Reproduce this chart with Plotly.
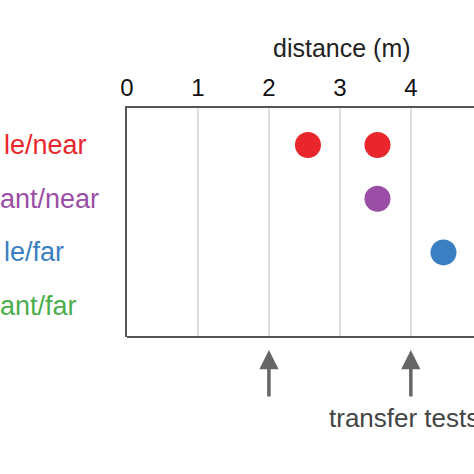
import plotly.graph_objects as go

# rows (top to bottom) and their colours -- only the visible part of each label
conditions = ['le/near', 'ant/near', 'le/far', 'ant/far']
colors = ['#e8262b', '#9b4ea6', '#3a7fc1', '#4cae4c']
label_left_px = [4, 0, 4, 0]

# measured distances per condition (m)
dot_rows = [0, 0, 1, 2]
dot_dist = [2.55, 3.53, 3.53, 4.46]
dot_colors = ['#e8262b', '#e8262b', '#9b4ea6', '#3a7fc1']

# transfer-test positions (m)
transfer_pos = [2, 4]

x_ticks = [0, 1, 2, 3, 4, 5, 6]

font = 'Liberation Sans, Arial, sans-serif'

fig = go.Figure()
fig.add_trace(go.Scatter(
    x=dot_dist,
    y=dot_rows,
    mode='markers',
    marker=dict(size=26, color=dot_colors, line=dict(width=0)),
    hoverinfo='skip',
    cliponaxis=False,
))

annotations = []
for i, (lab, col) in enumerate(zip(conditions, colors)):
    # labels are left aligned, starting at the left edge of the figure
    annotations.append(dict(
        x=-127 / 347, y=i, xref='paper', yref='y',
        text=lab, showarrow=False, xanchor='left', yanchor='middle',
        xshift=label_left_px[i] - 2,
        font=dict(size=27, color=col, family=font),
    ))

for p in transfer_pos:
    annotations.append(dict(
        x=p, y=-0.057, xref='x', yref='paper',
        text='', showarrow=True, ax=0, ay=48,
        arrowhead=2, arrowsize=1.1, arrowwidth=3.5, arrowcolor='#666666',
    ))

annotations.append(dict(
    x=2.82, y=-0.354, xref='x', yref='paper',
    text='transfer tests', showarrow=False, xanchor='left', yanchor='middle',
    font=dict(size=26, color='#444444', family=font),
))

annotations.append(dict(
    x=3.03, y=1.262, xref='x', yref='paper',
    text='distance (m)', showarrow=False, xanchor='center', yanchor='middle',
    font=dict(size=25, color='#222222', family=font),
))

fig.update_layout(
    width=474,
    height=474,
    margin=dict(l=127, r=0, t=108, b=137),
    plot_bgcolor='white',
    paper_bgcolor='white',
    showlegend=False,
    annotations=annotations,
    shapes=[dict(
        type='line', xref='paper', yref='paper', x0=0, x1=1, y0=0, y1=0,
        line=dict(color='#555555', width=2),
    )],
)

fig.update_xaxes(
    range=[0, 4.89],
    side='top',
    tickvals=x_ticks,
    ticks='',
    tickfont=dict(size=24, color='#111111', family=font),
    showgrid=True,
    gridcolor='#dddddd',
    gridwidth=1.5,
    zeroline=False,
    showline=True,
    linecolor='#555555',
    linewidth=2,
    fixedrange=True,
)

fig.update_yaxes(
    range=[3.575, -0.69],
    showticklabels=False,
    showgrid=False,
    zeroline=False,
    showline=True,
    linecolor='#555555',
    linewidth=2,
    fixedrange=True,
)

# drop the default 8px body margin so the figure fills the window
fig.write_html(
    "out.html",
    config={'displayModeBar': False},
    post_script="document.body.style.margin='0';",
)
